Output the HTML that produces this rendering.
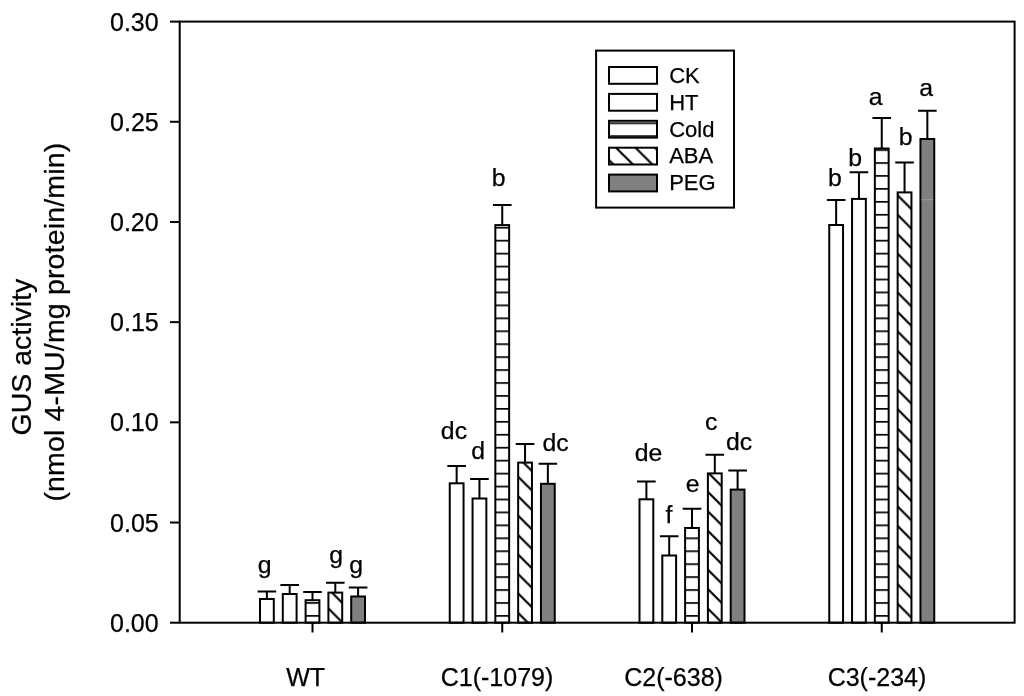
<!DOCTYPE html><html><head><meta charset="utf-8"><title>GUS activity</title><style>html,body{margin:0;padding:0;background:#fff;}svg{display:block;filter:blur(0.35px);}text{font-family:"Liberation Sans", Arial, Helvetica, sans-serif;fill:#000;stroke:#000;stroke-width:0.25px;}</style></head><body>
<svg width="1024" height="696" viewBox="0 0 1024 696">
<defs>
<pattern id="cold" patternUnits="userSpaceOnUse" x="0" y="6.870" width="20" height="12.940"><rect width="20" height="12.940" fill="#fff"/><rect x="0" y="0" width="20" height="1.7" fill="#000"/></pattern>
<pattern id="coldL" patternUnits="userSpaceOnUse" x="0" y="5.890" width="20" height="12.940"><rect width="20" height="12.940" fill="#fff"/><rect x="0" y="0" width="20" height="1.7" fill="#000"/></pattern>
<pattern id="aba0" patternUnits="userSpaceOnUse" x="11.700" y="0" width="19.450" height="19.450"><rect width="19.450" height="19.450" fill="#fff"/><path d="M-3,-3 L22.450,22.450 M16.450,-3 L22.450,3.000 M-3,16.450 L3,22.450" stroke="#000" stroke-width="2.2" fill="none"/></pattern>
<pattern id="aba1" patternUnits="userSpaceOnUse" x="2.500" y="0" width="19.450" height="19.450"><rect width="19.450" height="19.450" fill="#fff"/><path d="M-3,-3 L22.450,22.450 M16.450,-3 L22.450,3.000 M-3,16.450 L3,22.450" stroke="#000" stroke-width="2.2" fill="none"/></pattern>
<pattern id="aba2" patternUnits="userSpaceOnUse" x="2.100" y="0" width="19.450" height="19.450"><rect width="19.450" height="19.450" fill="#fff"/><path d="M-3,-3 L22.450,22.450 M16.450,-3 L22.450,3.000 M-3,16.450 L3,22.450" stroke="#000" stroke-width="2.2" fill="none"/></pattern>
<pattern id="aba3" patternUnits="userSpaceOnUse" x="2.100" y="0" width="19.450" height="19.450"><rect width="19.450" height="19.450" fill="#fff"/><path d="M-3,-3 L22.450,22.450 M16.450,-3 L22.450,3.000 M-3,16.450 L3,22.450" stroke="#000" stroke-width="2.2" fill="none"/></pattern>
<pattern id="abaL" patternUnits="userSpaceOnUse" x="1.600" y="0" width="19.450" height="19.450"><rect width="19.450" height="19.450" fill="#fff"/><path d="M-3,-3 L22.450,22.450 M16.450,-3 L22.450,3.000 M-3,16.450 L3,22.450" stroke="#000" stroke-width="2.2" fill="none"/></pattern>
</defs>
<rect width="1024" height="696" fill="#fff"/>
<path d="M266.90,599.00V591.60M257.60,591.60H276.20" stroke="#000" stroke-width="2.0" fill="none"/>
<rect x="260.00" y="599.00" width="13.80" height="23.70" fill="#fff" stroke="#000" stroke-width="2.0"/>
<path d="M289.70,594.00V584.90M280.40,584.90H299.00" stroke="#000" stroke-width="2.0" fill="none"/>
<rect x="282.80" y="594.00" width="13.80" height="28.70" fill="#fff" stroke="#000" stroke-width="2.0"/>
<path d="M312.50,600.20V592.00M303.20,592.00H321.80" stroke="#000" stroke-width="2.0" fill="none"/>
<rect x="305.60" y="600.20" width="13.80" height="22.50" fill="url(#cold)" stroke="#000" stroke-width="2.0"/>
<path d="M335.30,592.60V582.80M326.00,582.80H344.60" stroke="#000" stroke-width="2.0" fill="none"/>
<rect x="328.40" y="592.60" width="13.80" height="30.10" fill="url(#aba0)" stroke="#000" stroke-width="2.0"/>
<path d="M358.10,596.50V587.50M348.80,587.50H367.40" stroke="#000" stroke-width="2.0" fill="none"/>
<rect x="351.20" y="596.50" width="13.80" height="26.20" fill="#808080" stroke="#000" stroke-width="2.0"/>
<path d="M456.65,483.30V466.00M447.35,466.00H465.95" stroke="#000" stroke-width="2.0" fill="none"/>
<rect x="449.75" y="483.30" width="13.80" height="139.40" fill="#fff" stroke="#000" stroke-width="2.0"/>
<path d="M479.45,498.50V479.00M470.15,479.00H488.75" stroke="#000" stroke-width="2.0" fill="none"/>
<rect x="472.55" y="498.50" width="13.80" height="124.20" fill="#fff" stroke="#000" stroke-width="2.0"/>
<path d="M502.25,225.10V205.00M492.95,205.00H511.55" stroke="#000" stroke-width="2.0" fill="none"/>
<rect x="495.35" y="225.10" width="13.80" height="397.60" fill="url(#cold)" stroke="#000" stroke-width="2.0"/>
<path d="M525.05,462.60V444.10M515.75,444.10H534.35" stroke="#000" stroke-width="2.0" fill="none"/>
<rect x="518.15" y="462.60" width="13.80" height="160.10" fill="url(#aba1)" stroke="#000" stroke-width="2.0"/>
<path d="M547.85,483.80V463.80M538.55,463.80H557.15" stroke="#000" stroke-width="2.0" fill="none"/>
<rect x="540.95" y="483.80" width="13.80" height="138.90" fill="#808080" stroke="#000" stroke-width="2.0"/>
<path d="M646.40,499.30V481.40M637.10,481.40H655.70" stroke="#000" stroke-width="2.0" fill="none"/>
<rect x="639.50" y="499.30" width="13.80" height="123.40" fill="#fff" stroke="#000" stroke-width="2.0"/>
<path d="M669.20,555.50V536.20M659.90,536.20H678.50" stroke="#000" stroke-width="2.0" fill="none"/>
<rect x="662.30" y="555.50" width="13.80" height="67.20" fill="#fff" stroke="#000" stroke-width="2.0"/>
<path d="M692.00,528.00V508.70M682.70,508.70H701.30" stroke="#000" stroke-width="2.0" fill="none"/>
<rect x="685.10" y="528.00" width="13.80" height="94.70" fill="url(#cold)" stroke="#000" stroke-width="2.0"/>
<path d="M714.80,473.40V454.80M705.50,454.80H724.10" stroke="#000" stroke-width="2.0" fill="none"/>
<rect x="707.90" y="473.40" width="13.80" height="149.30" fill="url(#aba2)" stroke="#000" stroke-width="2.0"/>
<path d="M737.60,489.60V470.60M728.30,470.60H746.90" stroke="#000" stroke-width="2.0" fill="none"/>
<rect x="730.70" y="489.60" width="13.80" height="133.10" fill="#808080" stroke="#000" stroke-width="2.0"/>
<path d="M836.15,225.00V200.10M826.85,200.10H845.45" stroke="#000" stroke-width="2.0" fill="none"/>
<rect x="829.25" y="225.00" width="13.80" height="397.70" fill="#fff" stroke="#000" stroke-width="2.0"/>
<path d="M858.95,198.90V172.30M849.65,172.30H868.25" stroke="#000" stroke-width="2.0" fill="none"/>
<rect x="852.05" y="198.90" width="13.80" height="423.80" fill="#fff" stroke="#000" stroke-width="2.0"/>
<path d="M881.75,148.50V117.90M872.45,117.90H891.05" stroke="#000" stroke-width="2.0" fill="none"/>
<rect x="874.85" y="148.50" width="13.80" height="474.20" fill="url(#cold)" stroke="#000" stroke-width="2.0"/>
<path d="M904.55,192.40V162.40M895.25,162.40H913.85" stroke="#000" stroke-width="2.0" fill="none"/>
<rect x="897.65" y="192.40" width="13.80" height="430.30" fill="url(#aba3)" stroke="#000" stroke-width="2.0"/>
<path d="M927.35,139.00V110.70M918.05,110.70H936.65" stroke="#000" stroke-width="2.0" fill="none"/>
<rect x="920.45" y="139.00" width="13.80" height="483.70" fill="#808080" stroke="#000" stroke-width="2.0"/>
<rect x="921.45" y="199.2" width="11.80" height="1" fill="#9c9c9c"/>
<rect x="179.70" y="21.60" width="834.90" height="601.10" fill="none" stroke="#000" stroke-width="2.0"/>
<path d="M170,622.70H179.70" stroke="#000" stroke-width="2.0"/>
<text x="110.02" y="631.81" font-size="25.0">0.00</text>
<path d="M170,522.52H179.70" stroke="#000" stroke-width="2.0"/>
<text x="110.09" y="531.62" font-size="25.0">0.05</text>
<path d="M170,422.33H179.70" stroke="#000" stroke-width="2.0"/>
<text x="110.02" y="431.44" font-size="25.0">0.10</text>
<path d="M170,322.15H179.70" stroke="#000" stroke-width="2.0"/>
<text x="110.09" y="331.26" font-size="25.0">0.15</text>
<path d="M170,221.97H179.70" stroke="#000" stroke-width="2.0"/>
<text x="110.02" y="231.07" font-size="25.0">0.20</text>
<path d="M170,121.78H179.70" stroke="#000" stroke-width="2.0"/>
<text x="110.09" y="130.89" font-size="25.0">0.25</text>
<path d="M170,21.60H179.70" stroke="#000" stroke-width="2.0"/>
<text x="110.02" y="30.71" font-size="25.0">0.30</text>
<path d="M312.50,622.70V632.5" stroke="#000" stroke-width="2.0"/>
<path d="M502.25,622.70V632.5" stroke="#000" stroke-width="2.0"/>
<path d="M692.00,622.70V632.5" stroke="#000" stroke-width="2.0"/>
<path d="M881.75,622.70V632.5" stroke="#000" stroke-width="2.0"/>
<text x="257.76" y="573.20" font-size="24.8">g</text>
<text x="329.26" y="562.60" font-size="24.8">g</text>
<text x="349.16" y="573.20" font-size="24.8">g</text>
<text x="440.86" y="438.80" font-size="24.8">dc</text>
<text x="471.36" y="459.30" font-size="24.8">d</text>
<text x="491.70" y="186.30" font-size="24.8">b</text>
<text x="542.46" y="450.90" font-size="24.8">dc</text>
<text x="634.66" y="460.80" font-size="24.8">de</text>
<text x="665.45" y="522.50" font-size="24.8">f</text>
<text x="685.75" y="491.80" font-size="24.8">e</text>
<text x="704.95" y="429.90" font-size="24.8">c</text>
<text x="725.96" y="450.00" font-size="24.8">dc</text>
<text x="828.10" y="186.10" font-size="24.8">b</text>
<text x="848.20" y="165.70" font-size="24.8">b</text>
<text x="868.65" y="104.80" font-size="24.8">a</text>
<text x="898.80" y="145.30" font-size="24.8">b</text>
<text x="919.15" y="95.60" font-size="24.8">a</text>
<text x="286.14" y="685.80" font-size="25.0">WT</text>
<text x="440.73" y="685.80" font-size="25.0">C1(-1079)</text>
<text x="624.23" y="685.80" font-size="25.0">C2(-638)</text>
<text x="827.63" y="685.80" font-size="25.0">C3(-234)</text>
<rect x="596.1" y="50.6" width="137.9" height="157.0" fill="#fff" stroke="#000" stroke-width="2.0"/>
<rect x="609" y="67.00" width="48" height="16.8" fill="#fff" stroke="#000" stroke-width="2.0"/>
<text x="669.20" y="83.00" font-size="22.0">CK</text>
<rect x="609" y="93.90" width="48" height="16.8" fill="#fff" stroke="#000" stroke-width="2.0"/>
<text x="669.20" y="110.00" font-size="22.0">HT</text>
<rect x="609" y="120.80" width="48" height="16.8" fill="url(#coldL)" stroke="#000" stroke-width="2.0"/>
<text x="669.20" y="136.90" font-size="22.0">Cold</text>
<rect x="609" y="147.70" width="48" height="16.8" fill="url(#abaL)" stroke="#000" stroke-width="2.0"/>
<text x="669.20" y="163.40" font-size="22.0">ABA</text>
<rect x="609" y="174.60" width="48" height="16.8" fill="#808080" stroke="#000" stroke-width="2.0"/>
<text x="669.20" y="189.80" font-size="22.0">PEG</text>
<text transform="translate(30.60,435.52) rotate(-90)" font-size="28.5">GUS activity</text>
<text transform="translate(63.50,501.58) rotate(-90)" font-size="28.5" textLength="358.75" lengthAdjust="spacing">(nmol 4-MU/mg protein/min)</text>
</svg></body></html>
